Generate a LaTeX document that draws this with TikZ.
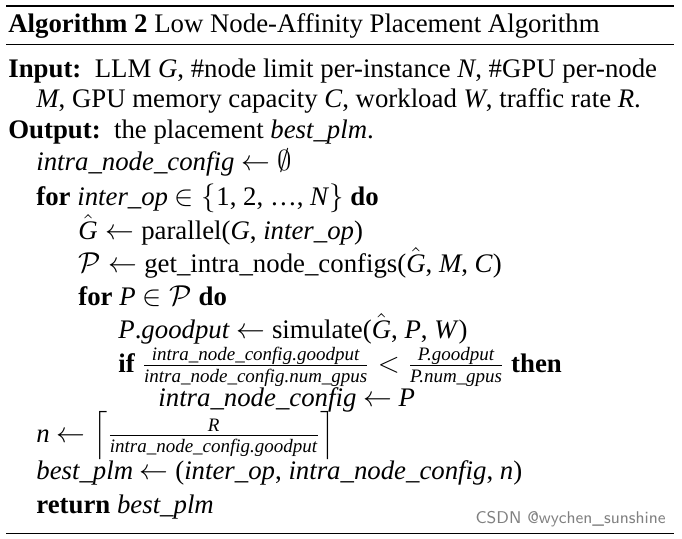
\documentclass[tikz,border=0pt]{standalone}
\usepackage{amsmath,amssymb}
\usepackage{fontspec}
\setmainfont{Liberation Serif}
\newcommand{\vi}[1]{\textit{#1}}
\newcommand{\sfr}[2]{\frac{\text{\fontsize{9.5}{10}\selectfont #1}}{\text{\fontsize{9.5}{10}\selectfont #2}}}
\begin{document}
\begin{tikzpicture}[x=0.5pt,y=-0.5pt,
  t/.style={anchor=base west,inner sep=0pt,font=\fontsize{13.4}{15}\selectfont}]
\useasboundingbox (0,0) rectangle (682,539);
\draw[line width=0.8pt] (6,6) -- (674,6);
\draw[line width=0.4pt] (6,44) -- (674,44);
\draw[line width=0.4pt] (6,533) -- (674,533);
\node[t] (title) at (8,33) {\textbf{Algorithm 2} Low Node-Affinity Placement Algorithm};
\node[t] (in1) at (8,78) {\textbf{Input:}\ \ LLM \vi{G}, \#node limit per-instance \vi{N}, \#GPU per-node};
\node[t] (in2) at (36,108) {\vi{M}, GPU memory capacity \vi{C}, workload \vi{W}, traffic rate \vi{R}.};
\node[t] (out) at (8,139) {\textbf{Output:}\ \ the placement \vi{best\_plm}.};
\node[t] (l1) at (36,171) {\vi{intra\_node\_config} $\leftarrow \emptyset$};
\node[t] (l2) at (36,206) {\textbf{for} \vi{inter\_op} $\in\{$1, 2, \dots, \vi{N}$\}$ \textbf{do}};
\node[t] (l3) at (78,240) {$\hat{\textit{G}}\leftarrow$ parallel(\vi{G}, \vi{inter\_op})};
\node[t] (l4) at (78,273) {$\mathcal{P}\leftarrow$ get\_intra\_node\_configs($\hat{\textit{G}}$, \vi{M}, \vi{C})};
\node[t] (l5) at (78,306) {\textbf{for} \vi{P} $\in\mathcal{P}$ \textbf{do}};
\node[t] (l6) at (118,339) {\vi{P}.\vi{goodput} $\leftarrow$ simulate($\hat{\textit{G}}$, \vi{P}, \vi{W})};
\node[t] (l7) at (118,373) {\textbf{if} $\sfr{\textit{intra\_node\_config.goodput}}{\textit{intra\_node\_config.num\_gpus}} < \sfr{\textit{P.goodput}}{\textit{P.num\_gpus}}$ \textbf{then}};
\node[t] (l8) at (158,407) {\vi{intra\_node\_config} $\leftarrow$ \vi{P}};
\node[t] (l9) at (36,443) {\vi{n} $\leftarrow\left\lceil\sfr{\textit{R}}{\textit{intra\_node\_config.goodput}}\right\rceil$};
\node[t] (l10) at (36,480) {\vi{best\_plm} $\leftarrow$ (\vi{inter\_op}, \vi{intra\_node\_config}, \vi{n})};
\node[t] (l11) at (36,514) {\textbf{return} \vi{best\_plm}};
\node[anchor=base east,inner sep=0pt,text=gray,font=\fontsize{8.5}{9}\sffamily] (wm) at (666,524) {CSDN @wychen\_sunshine};
\end{tikzpicture}
\end{document}
